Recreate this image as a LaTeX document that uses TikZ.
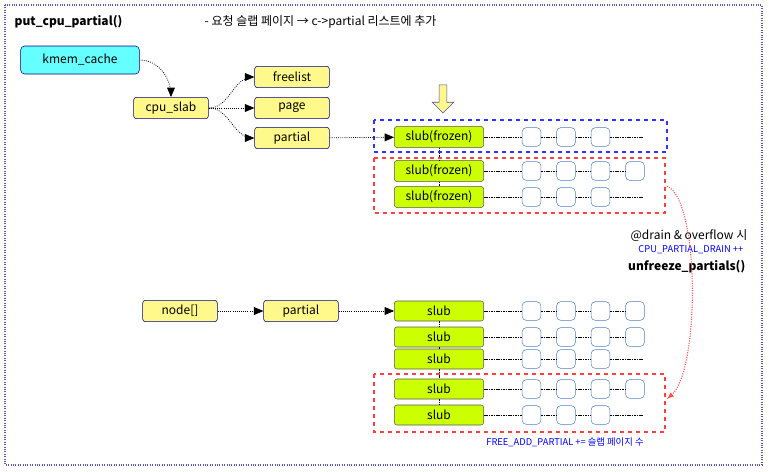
\documentclass[tikz,border=0pt]{standalone}
\usepackage{fontspec}
\setmainfont{Noto Sans CJK KR}
\usetikzlibrary{arrows,shapes,positioning,calc}
\definecolor{cyanbox}{HTML}{66FFFF}
\definecolor{limebox}{HTML}{CCFF00}
\definecolor{objline}{HTML}{4F81BD}
\tikzset{
    cache/.style={
        rectangle,
        rounded corners=3pt,
        draw=blue!50!black,
        fill=cyanbox,
        minimum width=89pt,
        minimum height=21pt,
    },
    field/.style={
        rectangle,
        rounded corners=2pt,
        draw=blue!50!black,
        fill=yellow!45,
        minimum width=56pt,
        minimum height=16pt,
    },
    slub/.style={
        rectangle,
        rounded corners=2pt,
        draw=gray!70!black,
        fill=limebox,
        minimum width=67pt,
        minimum height=15pt,
    },
    obj/.style={
        rectangle,
        rounded corners=3pt,
        draw=objline,
        fill=white,
        minimum size=14pt,
    },
    link/.style={
        draw,
        densely dotted,
        ->,>=triangle 45,
        semithick,
    },
    chain/.style={
        draw,
        dash pattern=on 1.2pt off 0.6pt,
        thin,
    },
    frame/.style={
        draw,
        dashed,
        very thick,
    },
}

\begin{document}
\begin{tikzpicture}[x=0.75pt,y=-0.75pt,font=\small]

    % Frame
    \useasboundingbox (0,0) rectangle (769,472);
    \draw[blue!30!gray, densely dotted, thick] (5,5) rectangle (762,465);
    \node[anchor=west, font=\small\bfseries] (title) at (10,22) {put\_cpu\_partial()};
    \node[anchor=west] (desc) at (200,22) {- 요청 슬랩 페이지 → c->partial 리스트에 추가};

    % Nodes and position definitions
    \node [cache] (kc) at (80,60) {kmem\_cache};
    \node [field] (cs) at (171,108) {cpu\_slab};
    \node [field] (fl) at (292,77) {freelist};
    \node [field] (pg) at (292,108) {page};
    \node [field] (pt) at (292,138) {partial};

    \node [field] (nd) at (180,311) {node[]};
    \node [field] (np) at (301,311) {partial};

    % frozen slubs (cpu partial)
    \node [slub] (F1) at (439,137) {slub(frozen)};
    \node [slub] (F2) at (439,171) {slub(frozen)};
    \node [slub] (F3) at (439,197) {slub(frozen)};

    % node partial slubs
    \node [slub] (S1) at (439,311) {slub};
    \node [slub] (S2) at (439,337) {slub};
    \node [slub] (S3) at (439,359) {slub};
    \node [slub] (S4) at (439,389) {slub};
    \node [slub] (S5) at (439,415) {slub};

    % object chains
    \foreach \s/\n in {F1/3,F2/4,F3/3,S1/4,S2/4,S3/3,S4/4,S5/3} {
        \foreach \i in {1,...,\n} {
            \node [obj] (\s-o\i) at ($(\s.center)+(58+\i*34.5,0)$) {};
        }
        \ifnum\n=3
            \coordinate (\s-end) at ($(\s.center)+(204,0)$);
            \draw[chain] (\s.east) -- (\s-o1) -- (\s-o2) -- (\s-o3) -- (\s-end);
        \else
            \draw[chain] (\s.east) -- (\s-o1) -- (\s-o2) -- (\s-o3) -- (\s-o4);
        \fi
    }
    \draw[chain] (F1) -- (F2) -- (F3);
    \draw[chain] (S1) -- (S2) -- (S3) -- (S4) -- (S5);

    % Boxes
    \draw[frame, blue!80] (374,120) rectangle (667,152);
    \draw[frame, red!75] (374,158) rectangle (665,213);
    \draw[frame, red!75] (374,374) rectangle (665,432);
    \node[single arrow, draw=blue!40!gray, fill=yellow!45, shape border rotate=270,
          minimum height=21pt, minimum width=16pt, single arrow head extend=3pt,
          inner sep=1.5pt] (down) at (443,97) {};

    % Labels
    \node[anchor=east] (drain) at (752,236) {@drain \& overflow 시};
    \node[anchor=east, blue, font=\scriptsize] (cnt) at (748,250) {CPU\_PARTIAL\_DRAIN ++};
    \node[anchor=east, font=\small\bfseries] (unf) at (750,267) {unfreeze\_partials()};
    \node[blue, font=\scriptsize] (fap) at (565,442) {FREE\_ADD\_PARTIAL += 슬랩 페이지 수};

    % Vertex definitions
    \path[link] (kc.east) to[out=0,in=90] (cs.north);
    \path[link] (cs.east) to[out=0,in=180] (fl.west);
    \path[link] (cs.east) -- (pg.west);
    \path[link] (cs.east) to[out=0,in=180] (pt.west);
    \path[link] (pt) -- (F1);
    \path[link] (nd) -- (np);
    \path[link] (np) -- (S1);
    \coordinate (drain-from) at (667,186);
    \coordinate (drain-to) at (667,399);
    \draw[red!70, densely dotted, thick, ->, >=latex] (drain-from) .. controls (700,200) and (700,370) .. (drain-to);

\end{tikzpicture}
\end{document}
